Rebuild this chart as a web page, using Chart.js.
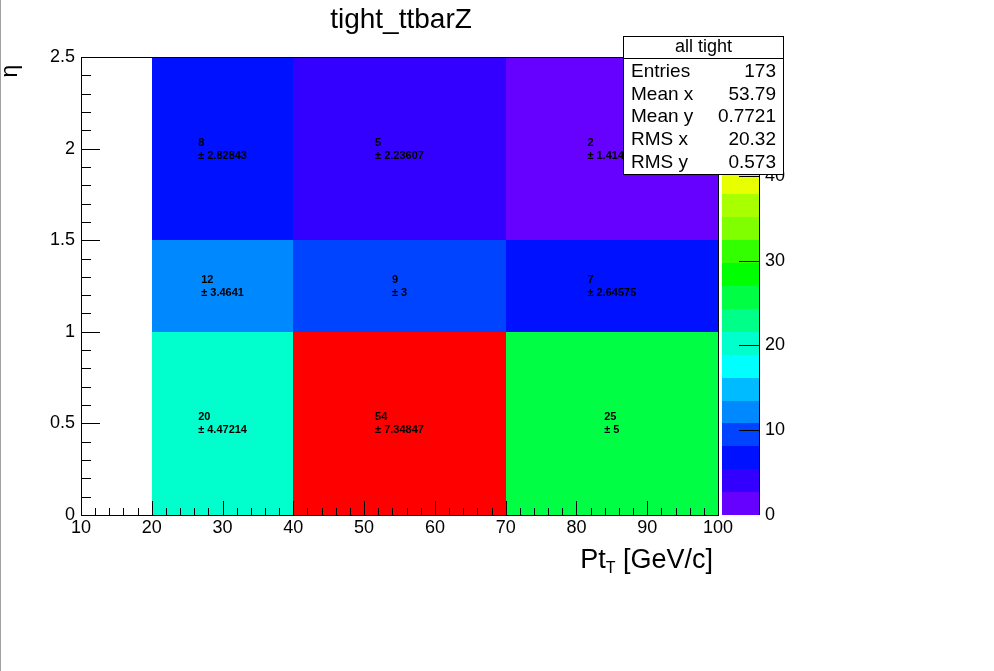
<!DOCTYPE html>
<html><head><meta charset="utf-8">
<script src="https://cdn.jsdelivr.net/npm/chart.js@4/dist/chart.umd.min.js"></script>
<style>html,body{margin:0;padding:0;background:#fff}#wrap{width:994px;height:671px;position:relative}canvas{display:block}</style>
</head><body><div id="wrap"><canvas id="c" width="994" height="671"></canvas></div>
<script>
// ---- data ----
const xEdges = [20, 40, 70, 100];          // Pt_T bin edges
const yEdges = [0, 1, 1.5, 2.5];            // eta bin edges
const countsRow0 = [20, 54, 25];            // eta 0 - 1
const countsRow1 = [12, 9, 7];              // eta 1 - 1.5
const countsRow2 = [8, 5, 2];               // eta 1.5 - 2.5
const errorsRow0 = [4.47214, 7.34847, 5];
const errorsRow1 = [3.4641, 3, 2.64575];
const errorsRow2 = [2.82843, 2.23607, 1.41421];
const xTicks = [10, 20, 30, 40, 50, 60, 70, 80, 90, 100];
const yTickLabels = ['0', '0.5', '1', '1.5', '2', '2.5'];
const zTicks = [0, 10, 20, 30, 40];
const zMin = 0, zMax = 54, nContours = 20;
const paletteColors = ['#6600ff','#3300ff','#0011ff','#0044ff','#0088ff','#00bbff','#00ffff','#00ffcc','#00ff88','#00ff44',
                       '#00ff00','#33ff00','#80ff00','#a8ff00','#e8ff00','#ffdd00','#ffaa00','#ff7700','#ff4400','#ff0000'];
const titleText = 'tight_ttbarZ';
const statsTitle = 'all tight';
const statsLabels = ['Entries', 'Mean x', 'Mean y', 'RMS x', 'RMS y'];
const statsValues = ['173', '53.79', '0.7721', '20.32', '0.573'];

const counts = [countsRow0, countsRow1, countsRow2];
const errors = [errorsRow0, errorsRow1, errorsRow2];
const FONT = '"Liberation Sans", Arial, Helvetica, sans-serif';

function colorFor(v) {
  let b = Math.floor((v - zMin) / (zMax - zMin) * nContours);
  if (b >= nContours) b = nContours - 1;
  if (b < 0) b = 0;
  return paletteColors[b];
}

const cellData = [];
for (let j = 0; j < 3; j++) for (let i = 0; i < 3; i++) {
  cellData.push({x: (xEdges[i] + xEdges[i + 1]) / 2, y: (yEdges[j] + yEdges[j + 1]) / 2,
                 x0: xEdges[i], x1: xEdges[i + 1], y0: yEdges[j], y1: yEdges[j + 1],
                 v: counts[j][i], e: errors[j][i]});
}

const th2Plugin = {
  id: 'th2',
  beforeDatasetsDraw(chart) {
    const ctx = chart.ctx, xs = chart.scales.x, ys = chart.scales.y, zs = chart.scales.z;
    const ca = chart.chartArea;
    ctx.save();
    // left canvas border
    ctx.fillStyle = '#a0a0a0';
    ctx.fillRect(0, 0, 1, chart.height);
    // cells
    cellData.forEach(c => {
      const px0 = Math.round(xs.getPixelForValue(c.x0)), px1 = Math.round(xs.getPixelForValue(c.x1));
      const py0 = Math.round(ys.getPixelForValue(c.y0)), py1 = Math.round(ys.getPixelForValue(c.y1));
      ctx.fillStyle = colorFor(c.v);
      ctx.fillRect(px0, py1, px1 - px0, py0 - py1);
    });
    // cell texts
    ctx.fillStyle = '#000';
    ctx.font = 'bold 11px ' + FONT;
    ctx.textBaseline = 'middle';
    ctx.textAlign = 'left';
    cellData.forEach(c => {
      const l1 = String(c.v), l2 = '\u00b1 ' + String(c.e);
      const w = Math.max(ctx.measureText(l1).width, ctx.measureText(l2).width);
      const cx = xs.getPixelForValue(c.x), cy = ys.getPixelForValue(c.y);
      ctx.fillText(l1, cx - w / 2, cy - 6);
      ctx.fillText(l2, cx - w / 2, cy + 7);
    });
    // ticks
    ctx.strokeStyle = '#000';
    ctx.lineWidth = 1;
    ctx.beginPath();
    for (let v = 10; v <= 100.001; v += 2) {
      const px = Math.round(xs.getPixelForValue(v)) + 0.5;
      const major = Math.abs(v / 10 - Math.round(v / 10)) < 1e-6;
      ctx.moveTo(px, ca.bottom);
      ctx.lineTo(px, ca.bottom - (major ? 14 : 7));
    }
    for (let k = 0; k <= 25; k++) {
      const v = k / 10;
      const py = Math.round(ys.getPixelForValue(v)) + 0.5;
      const major = k % 5 === 0;
      ctx.moveTo(ca.left, py);
      ctx.lineTo(ca.left + (major ? 19 : 10), py);
    }
    ctx.stroke();
    // frame
    ctx.strokeRect(Math.round(ca.left) + 0.5, Math.round(ca.top) + 0.5, Math.round(ca.right - ca.left), Math.round(ca.bottom - ca.top));
    // palette
    const pl = 722, pr = 760;
    for (let b = 0; b < nContours; b++) {
      const v0 = zMin + (zMax - zMin) * b / nContours, v1 = zMin + (zMax - zMin) * (b + 1) / nContours;
      const y0 = Math.round(zs.getPixelForValue(v0)), y1 = Math.round(zs.getPixelForValue(v1));
      ctx.fillStyle = paletteColors[b];
      ctx.fillRect(pl, y1, pr - pl, y0 - y1);
    }
    ctx.beginPath();
    ctx.moveTo(pr - 0.5, ca.top);
    ctx.lineTo(pr - 0.5, ca.bottom);
    zTicks.forEach(t => {
      if (t === 0) return;
      const py = Math.round(zs.getPixelForValue(t)) + 0.5;
      ctx.moveTo(pr, py);
      ctx.lineTo(pr - 21, py);
    });
    ctx.stroke();
    // tick labels
    ctx.fillStyle = '#000';
    ctx.font = '18px ' + FONT;
    ctx.textAlign = 'center';
    ctx.textBaseline = 'top';
    xTicks.forEach(t => ctx.fillText(String(t), xs.getPixelForValue(t), ca.bottom + 4));
    ctx.textAlign = 'right';
    ctx.textBaseline = 'middle';
    yTickLabels.forEach(t => ctx.fillText(t, ca.left - 6, ys.getPixelForValue(parseFloat(t))));
    ctx.textAlign = 'left';
    zTicks.forEach(t => ctx.fillText(String(t), pr + 5, zs.getPixelForValue(t)));
    // title
    ctx.font = '28px ' + FONT;
    ctx.textAlign = 'center';
    ctx.textBaseline = 'alphabetic';
    ctx.fillText(titleText, 401, 28);
    // x title: Pt_T [GeV/c], right aligned
    ctx.font = '27px ' + FONT;
    const wPt = ctx.measureText('Pt').width, wRest = ctx.measureText(' [GeV/c]').width;
    ctx.font = '16px ' + FONT;
    const wT = ctx.measureText('T').width;
    let xr = 713, x0 = xr - wRest - wT - wPt;
    ctx.textAlign = 'left';
    ctx.font = '27px ' + FONT;
    ctx.fillText('Pt', x0, 568);
    ctx.font = '16px ' + FONT;
    ctx.fillText('T', x0 + wPt, 573);
    ctx.font = '27px ' + FONT;
    ctx.fillText(' [GeV/c]', x0 + wPt + wT, 568);
    // y title eta rotated
    ctx.save();
    ctx.translate(17, 71);
    ctx.rotate(-Math.PI / 2);
    ctx.font = '23px ' + FONT;
    ctx.textAlign = 'center';
    ctx.fillText('\u03b7', 0, 0);
    ctx.restore();
    // stats box
    const bx = 623.5, by = 36.5, bw = 160, bh = 138;
    ctx.fillStyle = '#fff';
    ctx.fillRect(bx, by, bw, bh);
    ctx.strokeStyle = '#000';
    ctx.strokeRect(bx, by, bw, bh);
    ctx.beginPath();
    ctx.moveTo(bx, 58.5); ctx.lineTo(bx + bw, 58.5);
    ctx.stroke();
    ctx.fillStyle = '#000';
    ctx.font = '18px ' + FONT;
    ctx.textAlign = 'center';
    ctx.textBaseline = 'middle';
    ctx.fillText(statsTitle, bx + bw / 2, 47);
    ctx.font = '19px ' + FONT;
    const rowsY = [72, 94.5, 117, 140, 162.5];
    statsLabels.forEach((l, i) => {
      ctx.textAlign = 'left';
      ctx.fillText(l, 631, rowsY[i]);
      ctx.textAlign = 'right';
      ctx.fillText(statsValues[i], 776, rowsY[i]);
    });
    ctx.restore();
  }
};

new Chart(document.getElementById('c'), {
  type: 'scatter',
  data: { datasets: [{ data: cellData.map(c => ({x: c.x, y: c.y})), pointRadius: 0, pointHoverRadius: 0 }] },
  options: {
    responsive: false, animation: false, devicePixelRatio: 1,
    layout: { padding: { left: 81, top: 57, right: 276, bottom: 156 } },
    plugins: { legend: { display: false }, tooltip: { enabled: false }, title: { display: false } },
    events: [],
    scales: {
      x: { type: 'linear', min: 10, max: 100, display: false },
      y: { type: 'linear', min: 0, max: 2.5, display: false },
      z: { type: 'linear', axis: 'y', min: zMin, max: zMax, display: false }
    }
  },
  plugins: [th2Plugin]
});
</script></body></html>
